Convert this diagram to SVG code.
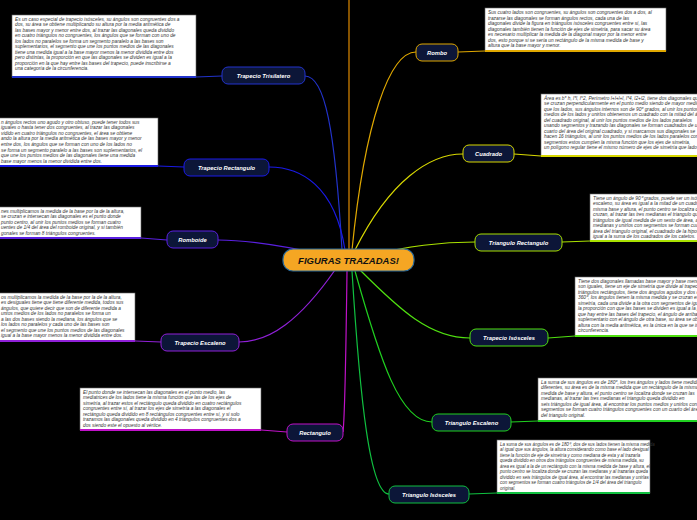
<svg xmlns="http://www.w3.org/2000/svg" width="697" height="520" viewBox="0 0 697 520">
<style>
.bg{fill:#000}
.box{fill:#fff;stroke:#666;stroke-width:0.6}
.bt{font-family:"Liberation Sans",Arial,sans-serif;font-size:4.8px;font-style:italic;fill:#333}
.sm{font-size:4.45px}
.node{fill:#0c1638;stroke-width:1}
.nt{font-family:"Liberation Sans",Arial,sans-serif;font-size:5.8px;font-style:italic;font-weight:bold;fill:#fff;text-anchor:middle}
.c{fill:none;stroke-width:1.2}
.ul{stroke-width:2}
.ct{font-family:"Liberation Sans",Arial,sans-serif;font-size:9.5px;font-style:italic;font-weight:bold;fill:#111;text-anchor:middle}
</style>
<rect class="bg" x="0" y="0" width="697" height="520"/>
<g id="connectors">
<line x1="349" y1="0" x2="349" y2="250" stroke="#e08a00" stroke-width="1.2"/>
<path class="c" stroke="#2233cc" d="M342 250 C335 130 325 76 305 76"/>
<path class="c" stroke="#1a1ae6" d="M345 250 C335 185 300 167 269 167"/>
<path class="c" stroke="#5a20e0" d="M330 256 C285 246 250 240 218 240"/>
<path class="c" stroke="#9020d8" d="M335 270 C300 320 270 342 239 342"/>
<path class="c" stroke="#c012c8" d="M347 271 C346 350 345 415 343 432"/>
<path class="c" stroke="#e0a800" d="M352 250 C365 120 390 52 416 52"/>
<path class="c" stroke="#d8d800" d="M355 250 C390 180 430 154 463 154"/>
<path class="c" stroke="#a8e000" d="M365 256 C410 246 440 242 475 242"/>
<path class="c" stroke="#50e010" d="M360 270 C400 310 430 338 470 338"/>
<path class="c" stroke="#20d020" d="M355 271 C380 360 400 422 432 422"/>
<path class="c" stroke="#10c040" d="M352 271 C360 400 370 494 389 494"/>
<path class="c" stroke="#2233cc" d="M222 76 L196 77"/>
<path class="c" stroke="#1a1ae6" d="M184 167 L158 166"/>
<path class="c" stroke="#5a20e0" d="M167 240 L141 238"/>
<path class="c" stroke="#9020d8" d="M161 342 L135 341"/>
<path class="c" stroke="#c012c8" d="M287 432 L261 430"/>
<path class="c" stroke="#e0a800" d="M458 52 L485 51"/>
<path class="c" stroke="#d8d800" d="M514 154 L541 156"/>
<path class="c" stroke="#a8e000" d="M562 242 L590 241"/>
<path class="c" stroke="#50e010" d="M548 338 L575 336"/>
<path class="c" stroke="#20d020" d="M511 422 L538 421"/>
<path class="c" stroke="#10c040" d="M469 494 L497 493"/>
</g>

<g id="box-trisilatero">
<rect class="box" x="12" y="15" width="184" height="62"/>
<line class="ul" x1="12" y1="77" x2="196" y2="77" stroke="#2233cc"/>
<text class="bt" x="15" y="20.5">Es un caso especial de trapecio isósceles, su ángulos son congruentes dos a</text>
<text class="bt" x="15" y="26">dos, su área se obtiene multiplicando su altura por la media aritmética de</text>
<text class="bt" x="15" y="31.5">las bases mayor y menor entre dos, al trazar las diagonales queda dividido</text>
<text class="bt" x="15" y="37">en cuatro triángulos no congruentes,  los ángulos que se forman con uno de</text>
<text class="bt" x="15" y="42.5">los lados no paralelos se forma un segmento paralelo a las bases son</text>
<text class="bt" x="15" y="48">suplementarios, el segmento que une los puntos medios de las diagonales</text>
<text class="bt" x="15" y="53.5">tiene una medida igual a la base mayor menos la menor dividida entre dos</text>
<text class="bt" x="15" y="59">pero distintas, la proporción en que las diagonales se dividen es igual a la</text>
<text class="bt" x="15" y="64.5">proporción en la que hay entre las bases del trapecio, puede inscribirse a</text>
<text class="bt" x="15" y="70">una categoría de la circunferencia.</text>
</g>
<g id="node-trisilatero">
<rect class="node" x="222" y="67" width="83" height="17" rx="6" stroke="#2233cc"/>
<text class="nt" x="263.5" y="77.7">Trapecio Trisilatero</text>
</g>

<g id="box-rectangulo-trap">
<rect class="box" x="-5" y="118" width="163" height="48"/>
<line class="ul" x1="-5" y1="166" x2="158" y2="166" stroke="#1a1ae6"/>
<text class="bt" x="1" y="123.5">n ángulos rectos uno agudo y otro obtuso, puede tener todos sus</text>
<text class="bt" x="1" y="129.1">iguales o hasta tener dos congruentes, al trazar las diagonales</text>
<text class="bt" x="1" y="134.7">vidido en cuatro triángulos no congruentes, el área se obtiene</text>
<text class="bt" x="1" y="140.3">ando la altura por la media aritmética de las bases mayor y menor</text>
<text class="bt" x="1" y="145.9">entre dos, los ángulos que se forman con uno de los lados no</text>
<text class="bt" x="1" y="151.5">se forma un segmento paralelo a las bases son suplementarios, el</text>
<text class="bt" x="1" y="157.1">que une los puntos medios de las diagonales tiene una medida</text>
<text class="bt" x="1" y="162.7">base mayor menos la menor dividida entre dos.</text>
</g>
<g id="node-trapecio-rectangulo">
<rect class="node" x="184" y="159" width="85" height="17" rx="6" stroke="#1a1ae6"/>
<text class="nt" x="226.5" y="169.7">Trapecio Rectangulo</text>
</g>

<g id="box-romboide">
<rect class="box" x="-5" y="207" width="146" height="31"/>
<line class="ul" x1="-5" y1="238" x2="141" y2="238" stroke="#5a20e0"/>
<text class="bt" x="1" y="212.5">nes multiplicamos la medida de la base por la de la altura,</text>
<text class="bt" x="1" y="218">se cruzan e intersecan las diagonales es el punto donde</text>
<text class="bt" x="1" y="223.5">punto centro, al unir los puntos medios se forman cuatro</text>
<text class="bt" x="1" y="229">uentes de 1/4 del área del romboide original, y si también</text>
<text class="bt" x="1" y="234.5">gonales se forman 8 triángulos congruentes.</text>
</g>
<g id="node-romboide">
<rect class="node" x="167" y="231" width="51" height="17" rx="6" stroke="#5a20e0"/>
<text class="nt" x="192.5" y="241.7">Romboide</text>
</g>

<g id="box-escaleno-trap">
<rect class="box" x="-5" y="293" width="140" height="48"/>
<line class="ul" x1="-5" y1="341" x2="135" y2="341" stroke="#9020d8"/>
<text class="bt" x="1" y="298.5">os multiplicamos la medida de la base por la de la altura,</text>
<text class="bt" x="1" y="304">es desiguales tiene que tiene diferente medida, todos sus</text>
<text class="bt" x="1" y="309.5">ángulos, que quiere decir que son de diferente medida a</text>
<text class="bt" x="1" y="315">untos medios de los lados no paralelos se forma un</text>
<text class="bt" x="1" y="320.5">a las dos bases siendo la mediana, los ángulos que se</text>
<text class="bt" x="1" y="326"> los lados no paralelos y cada uno de las bases son</text>
<text class="bt" x="1" y="331.5">el segmento que une los puntos medios de las diagonales</text>
<text class="bt" x="1" y="337">igual a la base mayor menos la menor dividida entre dos.</text>
</g>
<g id="node-trapecio-escaleno">
<rect class="node" x="161" y="334" width="78" height="17" rx="6" stroke="#9020d8"/>
<text class="nt" x="200" y="344.7">Trapecio Escaleno</text>
</g>

<g id="box-rectangulo">
<rect class="box" x="80" y="388" width="181" height="42"/>
<line class="ul" x1="80" y1="430" x2="261" y2="430" stroke="#c012c8"/>
<text class="bt" x="83" y="393.5">El punto donde se intersecan las diagonales es el punto medio, las</text>
<text class="bt" x="83" y="399">mediatrices de los lados tiene la misma función que las de los ejes de</text>
<text class="bt" x="83" y="404.5">simetría, al trazar estos el rectángulo queda dividido en cuatro rectángulos</text>
<text class="bt" x="83" y="410">congruentes entre sí, al trazar los ejes de simetría  a las diagonales el</text>
<text class="bt" x="83" y="415.5">rectángulo queda dividido en 8 rectángulos congruentes entre sí,  y si solo</text>
<text class="bt" x="83" y="421">trazamos las diagonales queda dividido en 4 triángulos congruentes dos a</text>
<text class="bt" x="83" y="426.5">dos siendo este el opuesto al vértice.</text>
</g>
<g id="node-rectangulo">
<rect class="node" x="287" y="424" width="56" height="17" rx="6" stroke="#c012c8"/>
<text class="nt" x="315" y="434.7">Rectangulo</text>
</g>

<g id="box-rombo">
<rect class="box" x="485" y="8" width="181" height="43"/>
<line class="ul" x1="485" y1="51" x2="666" y2="51" stroke="#e0a800"/>
<text class="bt" x="488" y="14">Sus cuatro lados son congruentes, su ángulos son congruentes dos a dos, al</text>
<text class="bt" x="488" y="19.5">trazarse las diagonales se forman ángulos rectos, cada una de las</text>
<text class="bt" x="488" y="25">diagonales divide la figura en triángulos isósceles congruentes entre sí, las</text>
<text class="bt" x="488" y="30.5">diagonales también tienen la función de ejes de simetría, para sacar su área</text>
<text class="bt" x="488" y="36">es necesario multiplicar la medida de la diagonal mayor por la menor entre</text>
<text class="bt" x="488" y="41.5">dos, esto porque si se sería un rectángulo de la misma medida de base y</text>
<text class="bt" x="488" y="47">altura que la base mayor y menor.</text>
</g>
<g id="node-rombo">
<rect class="node" x="416" y="44" width="42" height="17" rx="6" stroke="#e0a800"/>
<text class="nt" x="437" y="54.7">Rombo</text>
</g>

<g id="box-cuadrado">
<rect class="box" x="541" y="94" width="170" height="62"/>
<line class="ul" x1="541" y1="156" x2="711" y2="156" stroke="#d8d800"/>
<text class="bt" x="544" y="99.5">Área es b* h, l*l, l^2, Perímetro l+l+l+l, l*4, l2+l2, tiene dos diagonales que</text>
<text class="bt" x="544" y="105">se cruzan perpendicularmente en el punto medio siendo de mayor medida</text>
<text class="bt" x="544" y="110.5">que los lados, sus ángulos internos son de 90⁰ grados, al unir los puntos</text>
<text class="bt" x="544" y="116">medios de los lados y unirlos obtenemos un cuadrado con la mitad del área</text>
<text class="bt" x="544" y="121.5">del cuadrado original, al unir los puntos medios de los lados paralelos</text>
<text class="bt" x="544" y="127">usando segmentos y trazando las diagonales se forman cuadrados de un</text>
<text class="bt" x="544" y="132.5">cuarto del área del original cuadrado, y si marcamos sus diagonales se</text>
<text class="bt" x="544" y="138">hacen 16 triángulos, al unir los puntos medios de los lados paralelos con</text>
<text class="bt" x="544" y="143.5">segmentos estos cumplen la misma función que los ejes de simetría,</text>
<text class="bt" x="544" y="149">un polígono regular tiene el mismo número de ejes de simetría que lados.</text>
</g>
<g id="node-cuadrado">
<rect class="node" x="463" y="145" width="51" height="17" rx="6" stroke="#d8d800"/>
<text class="nt" x="488.5" y="155.7">Cuadrado</text>
</g>

<g id="box-triangulo-rectangulo">
<rect class="box" x="590" y="194" width="120" height="47"/>
<line class="ul" x1="590" y1="241" x2="710" y2="241" stroke="#a8e000"/>
<text class="bt" x="593" y="199.5">Tiene un ángulo de 90⁰ grados, puede ser un isósceles o</text>
<text class="bt" x="593" y="205">escaleno, su área es igual a la mitad de un cuadrado de la</text>
<text class="bt" x="593" y="210.5">misma  base y altura, el punto centro se localiza donde se</text>
<text class="bt" x="593" y="216">cruzan,  al trazar las tres medianas el triangulo queda en seis</text>
<text class="bt" x="593" y="221.5">triángulos de igual medida de un sexto de área, al encontrar</text>
<text class="bt" x="593" y="227">medianas y unirlos con segmentos se forman cuatro</text>
<text class="bt" x="593" y="232.5">área del triangulo original, el cuadrado de la hipotenusa es</text>
<text class="bt" x="593" y="238">igual a la suma de los cuadrados de los catetos.</text>
</g>
<g id="node-triangulo-rectangulo">
<rect class="node" x="475" y="234" width="87" height="17" rx="6" stroke="#a8e000"/>
<text class="nt" x="518.5" y="244.7">Triangulo Rectangulo</text>
</g>

<g id="box-trapecio-isosceles">
<rect class="box" x="575" y="277" width="130" height="59"/>
<line class="ul" x1="575" y1="336" x2="705" y2="336" stroke="#50e010"/>
<text class="bt" x="578" y="282.5">Tiene dos diagonales llamadas base mayor y base menor que</text>
<text class="bt" x="578" y="288">son iguales, tiene un eje de simetría que divide al trapecio en dos</text>
<text class="bt" x="578" y="293.5">triángulos rectángulos, tiene dos ángulos agudos y dos obtusos que suman</text>
<text class="bt" x="578" y="299">360⁰, los ángulos tienen la misma medida y se cruzan en el eje de</text>
<text class="bt" x="578" y="304.5">simetría, cada una divide a la otra con segmentos de igual medida,</text>
<text class="bt" x="578" y="310">la proporción con que las bases se dividen es igual a la proporción</text>
<text class="bt" x="578" y="315.5">que hay entre las bases del trapecio, el ángulo de arriba es</text>
<text class="bt" x="578" y="321">suplementario con el ángulo de otra base, su área se obtiene con la</text>
<text class="bt" x="578" y="326.5">altura con la media aritmética, es la única en la que se inscribe una</text>
<text class="bt" x="578" y="332">circunferencia.</text>
</g>
<g id="node-trapecio-isosceles">
<rect class="node" x="470" y="329" width="78" height="17" rx="6" stroke="#50e010"/>
<text class="nt" x="509" y="339.7">Trapecio Isósceles</text>
</g>

<g id="box-triangulo-escaleno">
<rect class="box" x="538" y="378" width="165" height="43"/>
<line class="ul" x1="538" y1="421" x2="703" y2="421" stroke="#20d020"/>
<text class="bt" x="541" y="383.5">La suma de sus ángulos es de 180⁰, los tres ángulos y lados tiene medidas</text>
<text class="bt" x="541" y="389">diferentes, su área es de la misma medida que un rectángulo de la misma</text>
<text class="bt" x="541" y="394.5">medida de base y altura, el punto centro se localiza donde se cruzan las</text>
<text class="bt" x="541" y="400">medianas,  al trazar las tres medianas el triangulo queda dividido en</text>
<text class="bt" x="541" y="405.5">seis triángulos de igual área, al encontrar los puntos medios y unirlos con</text>
<text class="bt" x="541" y="411">segmentos se forman cuatro triángulos congruentes con un cuarto del área</text>
<text class="bt" x="541" y="416.5">del triangulo original.</text>
</g>
<g id="node-triangulo-escaleno">
<rect class="node" x="432" y="414" width="79" height="17" rx="6" stroke="#20d020"/>
<text class="nt" x="471.5" y="424.7">Triangulo Escaleno</text>
</g>

<g id="box-triangulo-isosceles">
<rect class="box" x="497" y="440" width="153" height="53"/>
<line class="ul" x1="497" y1="493" x2="650" y2="493" stroke="#10c040"/>
<text class="bt sm" x="500" y="445.5">La suma de sus ángulos es de 180⁰, dos de sus lados tienen la misma medida</text>
<text class="bt sm" x="500" y="451">al igual que sus ángulos, la altura considerando como base el lado desigual</text>
<text class="bt sm" x="500" y="456.5">tiene la función de eje de simetría y como mediana de esta y al trazarla</text>
<text class="bt sm" x="500" y="462">queda dividido en otros dos triángulos congruentes de misma medida, su</text>
<text class="bt sm" x="500" y="467.5">área es igual a la de un rectángulo con la misma medida de base y altura, el</text>
<text class="bt sm" x="500" y="473">punto centro se localiza donde se cruzan las medianas y al trazarlas queda</text>
<text class="bt sm" x="500" y="478.5">dividido en seis triángulos de igual área, al encontrar las medianas y unirlas</text>
<text class="bt sm" x="500" y="484">con segmentos se forman cuatro triángulos de 1/4 del área del triangulo</text>
<text class="bt sm" x="500" y="489.5">original.</text>
</g>
<g id="node-triangulo-isosceles">
<rect class="node" x="389" y="486" width="80" height="17" rx="6" stroke="#10c040"/>
<text class="nt" x="429" y="496.7">Triangulo Isósceles</text>
</g>

<g id="node-central">
<rect x="283" y="249" width="131" height="22" rx="10" fill="#f5a623" stroke="#2a6a9a" stroke-width="1.2"/>
<text class="ct" x="348.5" y="263.5">FIGURAS TRAZADAS!</text>
</g>
</svg>
